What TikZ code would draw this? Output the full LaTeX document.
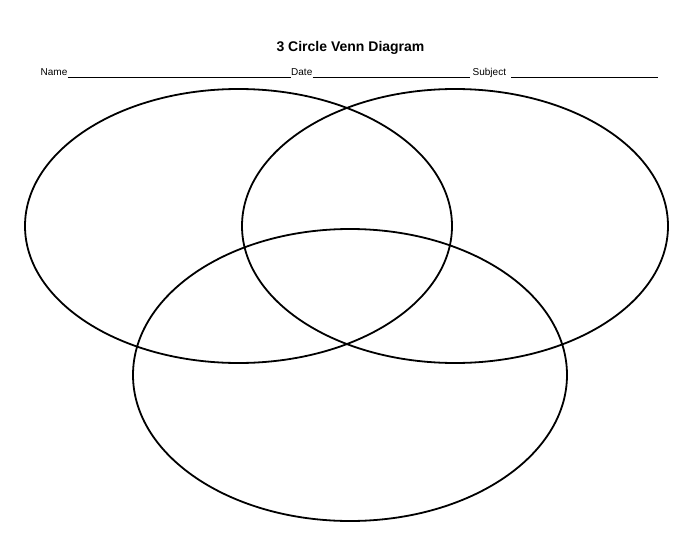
\documentclass[tikz,border=0pt]{standalone}
\usepackage{fontspec}
\setmainfont{Liberation Sans}
\begin{document}
\begin{tikzpicture}[x=1pt,y=-1pt,
  venn/.style={draw=black,line width=1.8pt},
  hdr/.style={inner sep=0pt,anchor=base west,font=\fontsize{10}{12}\selectfont},
  blank/.style={draw=black,line width=0.6pt}]
\useasboundingbox (0,0) rectangle (700,540);
\fill[white] (0,0) rectangle (700,540);
\node[inner sep=0pt,anchor=base,font=\fontsize{14}{16}\selectfont\bfseries] (title) at (350.5,52) {3 Circle Venn Diagram};
\node[hdr] (name) at (40.5,76) {Name};
\node[hdr] (date) at (291,76) {Date};
\node[hdr] (subject) at (472.5,76) {Subject};
\coordinate (nameend) at (291,77.6);
\coordinate (dateend) at (470,77.6);
\coordinate (subjstart) at (511,77.6);
\coordinate (subjend) at (658,77.6);
\draw[blank] (name.base east) ++(0,1.6) -- (nameend);
\draw[blank] (date.base east) ++(0,1.6) -- (dateend);
\draw[blank] (subjstart) -- (subjend);
\draw[venn] (238.5,226) ellipse [x radius=213.5, y radius=137];
\draw[venn] (455,226) ellipse [x radius=213, y radius=137];
\draw[venn] (350,375) ellipse [x radius=217, y radius=146];
\end{tikzpicture}
\end{document}
